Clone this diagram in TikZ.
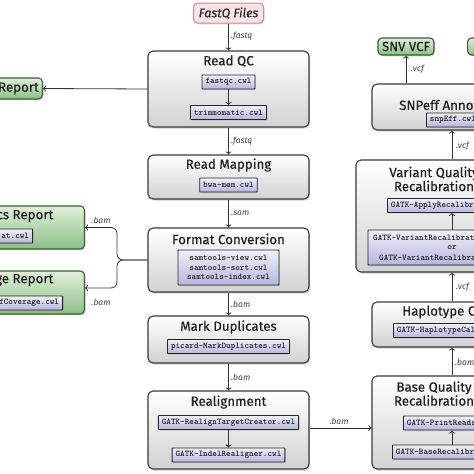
\documentclass[tikz,border=0pt]{standalone}
\usepackage{fontspec}
\setmainfont{Fira Sans}
\newfontfamily\titlefont{Fira Sans}[FakeBold=0.3]
\usetikzlibrary{shadows,arrows.meta}
\definecolor{boxline}{HTML}{3A3A3A}
\definecolor{boxbot}{HTML}{D2D2D2}
\definecolor{tooltop}{HTML}{F0F0FA}
\definecolor{toolbot}{HTML}{B6B6DE}
\definecolor{greentop}{HTML}{E0F0DA}
\definecolor{greenbot}{HTML}{8CBF86}
\definecolor{greenline}{HTML}{3A5E38}
\definecolor{pinkfill}{HTML}{FBE3E6}
\definecolor{pinkline}{HTML}{C98C93}
\begin{document}
\begin{tikzpicture}[x=1pt,y=-1pt,
  box/.style={draw=boxline, line width=1.1pt, rounded corners=5pt, top color=white, bottom color=boxbot,
    drop shadow={shadow xshift=1.2pt, shadow yshift=-1.6pt, opacity=0.35}, inner sep=0pt},
  tool/.style={draw=black!85, line width=0.9pt, rounded corners=0.6pt, top color=tooltop, bottom color=toolbot,
    drop shadow={shadow xshift=0.8pt, shadow yshift=-1pt, opacity=0.3},
    minimum height=14, inner xsep=3.5pt, inner ysep=0pt, text=black!90,
    font=\ttfamily\bfseries\fontsize{8.76}{9.8}\selectfont},
  mono/.style={inner sep=0pt, text=black!90, font=\ttfamily\bfseries\fontsize{8.76}{9.8}\selectfont},
  outbox/.style={draw=greenline, line width=1.1pt, rounded corners=4pt, top color=greentop, bottom color=greenbot,
    drop shadow={shadow xshift=1pt, shadow yshift=-1.3pt, opacity=0.3}, inner sep=0pt},
  title/.style={inner sep=0pt, align=center, text=black!88, font=\titlefont\fontsize{13.3}{14}\selectfont},
  lbl/.style={inner sep=0pt, text=black!75, font=\itshape\fontsize{8.5}{10}\selectfont},
  arr/.style={draw=black!80, line width=0.8pt, -{To[length=3pt,width=6pt]}}
]
\useasboundingbox (0,0) rectangle (474,474);
\fill[white] (0,0) rectangle (474,474);
\clip (0,0) rectangle (474,474);
\coordinate (cx) at (452,0);
\coordinate (bx) at (117,0);
\coordinate (yb) at (0,428);
\coordinate (ycov) at (0,288);

% input
\node[draw=pinkline, fill=pinkfill, line width=1pt, rounded corners=4pt, minimum width=70, minimum height=20,
  inner sep=0pt, font=\titlefont\itshape\fontsize{12.5}{14}\selectfont, text=black!85,
  drop shadow={shadow xshift=1pt, shadow yshift=-1.3pt, opacity=0.25}] (fq) at (228.5,13) {FastQ Files};

% left column
\node[box, minimum width=161, minimum height=76] (rqc) at (228.5,89) {};
\node[box, minimum width=161, minimum height=44] (rmap) at (228.5,177) {};
\node[box, minimum width=161, minimum height=64] (fconv) at (228.5,260) {};
\node[box, minimum width=161, minimum height=47] (mdup) at (228.5,339.5) {};
\node[box, minimum width=161, minimum height=78] (realn) at (228.5,430) {};

\node[title] (trqc) at (228.5,61) {Read QC};
\node[title] (trmap) at (228.5,165) {Read Mapping};
\node[title] (tfconv) at (228.5,239) {Format Conversion};
\node[title] (tmdup) at (228.5,327) {Mark Duplicates};
\node[title] (trealn) at (228.5,402) {Realignment};

\node[tool] (fastqc) at (228.5,82) {fastqc.cwl};
\node[tool] (trim) at (228.5,112.5) {trimmomatic.cwl};
\node[tool] (bwa) at (228.5,185) {bwa-mem.cwl};
\node[tool, minimum width=101, minimum height=35, align=center] (sam) at (228.5,267.5)
  {samtools-view.cwl\\samtools-sort.cwl\\samtools-index.cwl};
\node[tool] (picard) at (228.5,346.5) {picard-MarkDuplicates.cwl};
\node[tool] (rtc) at (228.5,422.5) {GATK-RealignTargetCreator.cwl};
\node[tool] (indel) at (228.5,455) {GATK-IndelRealigner.cwl};

% reports on the left
\node[outbox, minimum width=90, minimum height=21, anchor=east] (qcrep) at (43,88.5) {};
\node[title, anchor=east] (tqcrep) at (39,88.5) {Report};
\node[outbox, minimum width=120, minimum height=43, anchor=east] (metrep) at (85,227.5) {};
\node[title, anchor=east] (tmetrep) at (53.5,216) {cs Report};
\node[tool, anchor=east] (metcwl) at (33,236) {at.cwl};
\node[outbox, minimum width=120, minimum height=43, anchor=east] (covrep) at (85,292.5) {};
\node[title, anchor=east] (tcovrep) at (53.5,280) {ge Report};
\node[tool, anchor=east] (covcwl) at (63,303) {fCoverage.cwl};

% right column
\node[box, minimum width=160, minimum height=46] (snpeff) at (452,107) {};
\node[box, minimum width=192, minimum height=112] (vqr) at (452,216) {};
\node[box, minimum width=160, minimum height=45] (hap) at (452,324.5) {};
\node[box, minimum width=160, minimum height=93] (bqr) at (452,422.5) {};

\node[outbox, minimum width=56, minimum height=17, font=\titlefont\fontsize{13.1}{14}\selectfont, text=black!88] (snv) at (406,46.5) {SNV VCF};
\node[outbox, minimum width=40, minimum height=17, anchor=west] (indelvcf) at (467,46.5) {};

\node[title, anchor=west] (tsnpeff) at (399,105) {SNPeff Annot};
\node[tool, anchor=west] (snpcwl) at (426,120) {snpEff.cwl};

\node[title] (tvqr) at (434,179) {Variant Quality\\Recalibration};
\node[tool, anchor=west] (apply) at (387,205.5) {GATK-ApplyRecalibr};
\node[tool, minimum width=168, minimum height=35] (varrec) at (452,247.5) {};
\node[mono, anchor=west] (vr1) at (373,237.5) {GATK-VariantRecalibrat};
\node[mono] (vr2) at (452,247.5) {or};
\node[mono, anchor=west] (vr3) at (379,257.5) {GATK-VariantRecalibra};

\node[title, anchor=west] (thap) at (402,312) {Haplotype Ca};
\node[tool, anchor=west] (hapcwl) at (393,330.5) {GATK-HaplotypeCal};

\node[title] (tbqr) at (434,393.5) {Base Quality\\Recalibration};
\node[tool, anchor=west] (print) at (403,423) {GATK-PrintReads};
\node[tool, anchor=west] (baserec) at (392,452) {GATK-BaseRecalibr};

% connectors, left column
\draw[arr] (fq) -- (rqc);
\node[lbl, anchor=west] at (231,36) {.fastq};
\draw[arr] (fastqc) -- (trim);
\draw[arr] (rqc) -- (rmap);
\node[lbl, anchor=west] at (231,141) {.fastq};
\draw[arr] (rmap) -- (fconv);
\node[lbl, anchor=west] at (231,213) {.sam};
\draw[arr] (fconv) -- (mdup);
\node[lbl, anchor=west] at (231,304) {.bam};
\draw[arr] (mdup) -- (realn);
\node[lbl, anchor=west] at (231,377) {.bam};
\draw[arr] (rtc) -- (indel);

% to the left
\draw[arr] (rqc.west) -- (qcrep.east);
\draw[arr, rounded corners=6pt] (fconv.west) -- (fconv.west -| bx) -- (bx |- metrep.east) -- (metrep.east);
\draw[arr, rounded corners=6pt] (fconv.west) -- (fconv.west -| bx) -- (bx |- ycov) -- (covrep.east |- ycov);
\node[lbl] at (101,220) {.bam};
\node[lbl] at (101,302) {.bam};

% to the right column
\draw[arr] (realn.east |- yb) -- (bqr.west |- yb);
\node[lbl] at (339,421) {.bam};
\draw[arr] (baserec.north -| cx) -- (print.south -| cx);
\draw[arr] (bqr.north -| cx) -- (hap.south -| cx);
\node[lbl, anchor=west] at (455,362) {.bam};
\draw[arr] (hap.north -| cx) -- (vqr.south -| cx);
\node[lbl, anchor=west] at (456,287) {.vcf};
\draw[arr] (varrec.north -| cx) -- (apply.south -| cx);
\draw[arr] (vqr.north -| cx) -- (snpeff.south -| cx);
\node[lbl, anchor=west] at (456,146) {.vcf};
\draw[arr] (snpeff.north -| snv.south) -- (snv.south);
\node[lbl, anchor=west] at (411,69) {.vcf};
\end{tikzpicture}
\end{document}
